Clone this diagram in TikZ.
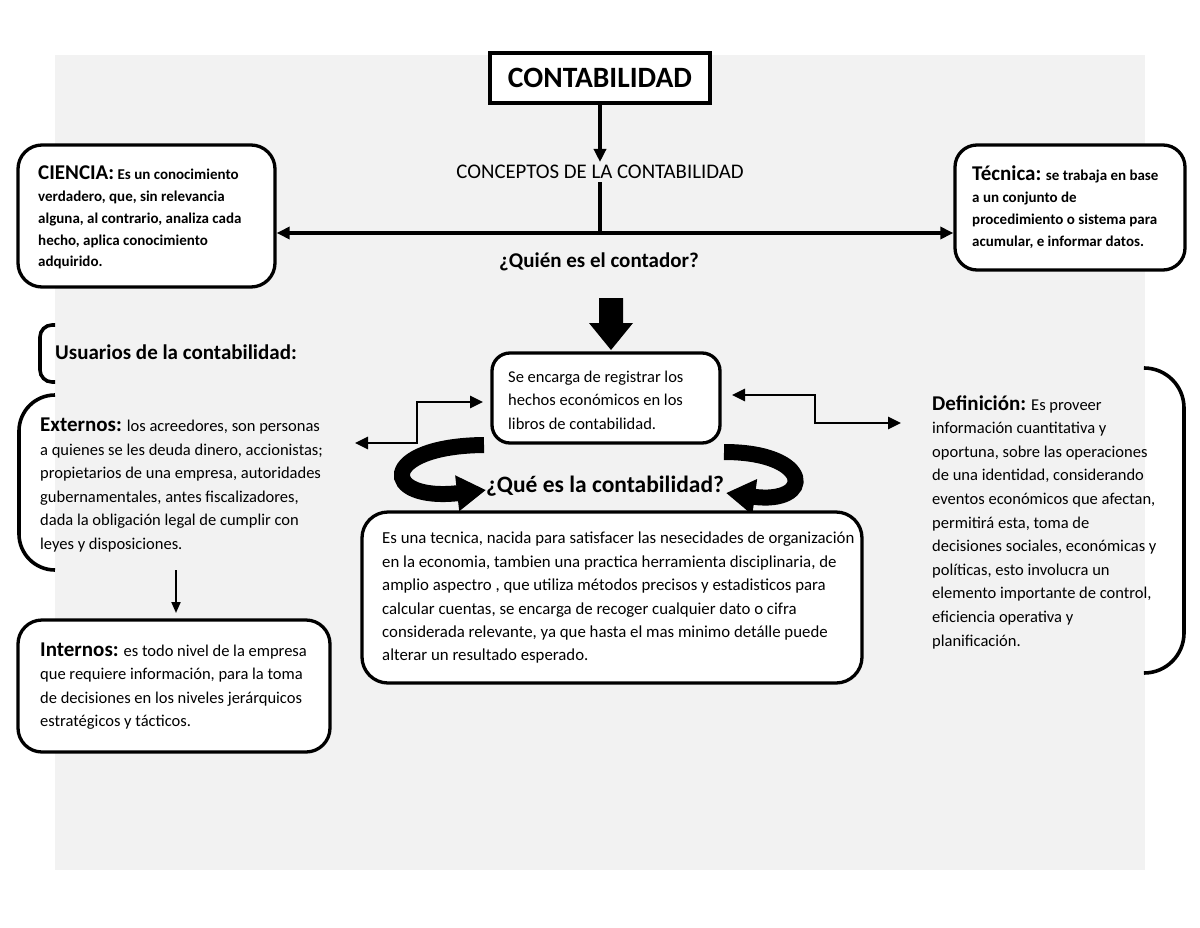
\documentclass[tikz,border=0pt]{standalone}
\usepackage{fontspec}
\setmainfont{Carlito}
\usetikzlibrary{arrows.meta,calc}
\definecolor{bggray}{HTML}{F2F2F2}
\begin{document}
\begin{tikzpicture}[x=1pt,y=-1pt,
  box/.style={draw=black, line width=3.3pt, fill=white, rounded corners=22pt, inner sep=0pt},
  bodytxt/.style={inner sep=0pt, align=left, anchor=west, font=\fontsize{16.5}{23.6}\selectfont},
  boldtxt/.style={inner sep=0pt, align=left, anchor=west, font=\fontsize{15}{21.8}\selectfont\bfseries},
  headfont/.style={font=\fontsize{21}{24}\selectfont\bfseries},
  conn/.style={draw=black, line width=3.3pt},
  thinconn/.style={draw=black, line width=2.8pt},
  bracketline/.style={draw=black, line width=3.6pt},
  tipA/.style={-{Triangle[length=13pt,width=12pt]}},
  tipAA/.style={{Triangle[length=13pt,width=12pt]}-{Triangle[length=13pt,width=12pt]}},
  bigcurve/.style={draw=black, line width=16pt, -{Triangle[length=29pt,width=34pt]}}
]
\useasboundingbox (0,0) rectangle (1200,927);
\fill[bggray] (55,55) rectangle (1145,870);

% title
\node[draw=black, line width=3.3pt, fill=white, minimum width=220pt, minimum height=50pt, inner sep=0pt,
      font=\fontsize{29.5}{32}\selectfont\bfseries] (conta) at (600,78) {CONTABILIDAD};
\node[inner sep=3pt, font=\fontsize{20.8}{24}\selectfont] (concepts) at (600,172) {CONCEPTOS DE LA CONTABILIDAD};
\draw[conn, tipA] (conta.south) -- (concepts.north);
\coordinate (junc) at (600,233);
\draw[conn] (concepts.south) -- (junc);

% CIENCIA box
\node[box, rounded corners=24pt, minimum width=257pt, minimum height=142pt] (ciencia) at (146.5,216) {};
\node[boldtxt] (cienciatxt) at (38,217.5) {{\fontsize{21}{22}\selectfont CIENCIA:} Es un conocimiento\\verdadero, que, sin relevancia\\alguna, al contrario, analiza cada\\hecho, aplica conocimiento\\adquirido.};

% Tecnica box
\node[box, minimum width=230pt, minimum height=125pt] (tecnica) at (1070,207.5) {};
\node[boldtxt] (tecnicatxt) at (972,207) {{\fontsize{21}{22}\selectfont Técnica:} se trabaja en base\\a un conjunto de\\procedimiento o sistema para\\acumular, e informar datos.};

\draw[conn, tipAA] (ciencia.east |- junc) -- (tecnica.west |- junc);

\node[inner sep=3pt, font=\fontsize{21}{24}\selectfont\bfseries] (quien) at (599,262) {¿Quién es el contador?};

% block arrow
\coordinate (bigtop) at (611,298);
\coordinate (bigtip) at (611,350);
\fill[black] ($(bigtop)+(-12,0)$) -- ($(bigtop)+(12,0)$) -- ($(bigtop)+(12,25)$) -- ($(bigtop)+(22,25)$)
  -- (bigtip) -- ($(bigtop)+(-22,25)$) -- ($(bigtop)+(-12,25)$) -- cycle;

% Se encarga box
\node[box, rounded corners=18pt, minimum width=228pt, minimum height=90pt] (encarga) at (606,398) {};
\node[bodytxt] (encargatxt) at (508,400) {Se encarga de registrar los\\hechos económicos en los\\libros de contabilidad.};

% elbow arrows
\coordinate (lA) at (355,443);
\coordinate (lB) at (417,443);
\coordinate (lC) at (417,402);
\coordinate (lD) at (483,402);
\draw[thinconn, tipAA] (lA) -- (lB) -- (lC) -- (lD);
\coordinate (rA) at (732,395);
\coordinate (rB) at (815,395);
\coordinate (rC) at (815,423);
\coordinate (rD) at (901,423);
\draw[thinconn, tipAA] (rA) -- (rB) -- (rC) -- (rD);

% curved arrows
\node[inner sep=2pt, font=\fontsize{23.5}{26}\selectfont\bfseries] (que) at (605,486) {¿Qué es la contabilidad?};
\coordinate (cl1) at (484,445);
\coordinate (cl2) at (486,490);
\coordinate (cr1) at (724,452);
\coordinate (cr2) at (726,493);
\draw[bigcurve] (cl1) .. controls (378,446) and (380,502) .. (cl2);
\draw[bigcurve] (cr1) .. controls (814,452) and (814,505) .. (cr2);

% big box
\node[box, rounded corners=26pt, minimum width=500pt, minimum height=171pt] (defbox) at (612,597.5) {};
\node[bodytxt, font=\fontsize{16.8}{23.4}\selectfont] (defboxtxt) at (382,598) {Es una tecnica, nacida para satisfacer las nesecidades de organización\\en la economia, tambien una practica herramienta disciplinaria, de\\amplio aspectro , que utiliza métodos precisos y estadisticos para\\calcular cuentas, se encarga de recoger cualquier dato o cifra\\considerada relevante, ya que hasta el mas minimo detálle puede\\alterar un resultado esperado.};

% Usuarios
\draw[bracketline, rounded corners=12pt] (55,325) -- (40,325) -- (40,382) -- (55,382);
\node[inner sep=0pt, anchor=west, headfont] (usuarios) at (55,352) {Usuarios de la contabilidad:};

% Externos
\draw[bracketline, rounded corners=36pt] (55,395) -- (19,395) -- (19,570) -- (55,570);
\node[bodytxt] (externos) at (40,485) {{\fontsize{21}{22}\selectfont\bfseries Externos:} los acreedores, son personas\\a quienes se les deuda dinero, accionistas;\\propietarios de una empresa, autoridades\\gubernamentales, antes fiscalizadores,\\dada la obligación legal de cumplir con\\leyes y disposiciones.};
\coordinate (eA) at (176,570);
\draw[draw=black, line width=2pt, -{Triangle[length=11pt,width=9pt]}] (eA) -- ($(eA)+(0,43)$) coordinate (eB);

% Internos
\node[box, rounded corners=24pt, minimum width=312pt, minimum height=132pt] (internos) at (174,686) {};
\node[bodytxt] (internostxt) at (40,686) {{\fontsize{21}{22}\selectfont\bfseries Internos:} es todo nivel de la empresa\\que requiere información, para la toma\\de decisiones en los niveles jerárquicos\\estratégicos y tácticos.};

% Definicion
\draw[bracketline, rounded corners=40pt] (1145,368) -- (1184,368) -- (1184,673) -- (1145,673);
\node[bodytxt] (definicion) at (932,522) {{\fontsize{21}{22}\selectfont\bfseries Definición:} Es proveer\\información cuantitativa y\\oportuna, sobre las operaciones\\de una identidad, considerando\\eventos económicos que afectan,\\permitirá esta, toma de\\decisiones sociales, económicas y\\políticas, esto involucra un\\elemento importante de control,\\eficiencia operativa y\\planificación.};
\end{tikzpicture}
\end{document}
